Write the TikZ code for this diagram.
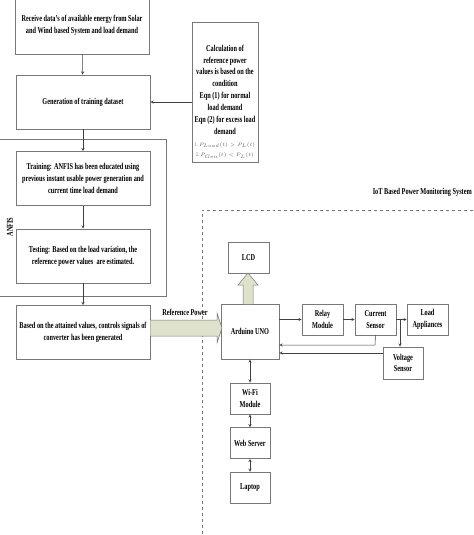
\documentclass[tikz,border=0pt]{standalone}
\usepackage{amsmath}
\usepackage{fontspec}
\setmainfont{Liberation Serif}[FakeStretch=0.7]
\usepackage{tikz}
\usetikzlibrary{arrows, positioning}

\definecolor{boxline}{RGB}{120,120,120}
\definecolor{fatfill}{RGB}{222,226,204}

\newcommand{\eqnote}[1]{\fontsize{5.5}{7}\selectfont\mdseries\color{black!65}#1}

\tikzset{
  box/.style={draw=boxline, fill=white, align=center, inner sep=0pt, line width=0.6pt,
    font=\fontsize{9}{11.9}\selectfont\bfseries},
  flowbox/.style={box, minimum width=134bp, minimum height=54bp},
  smallbox/.style={box, minimum width=41bp, minimum height=31bp},
  link/.style={->, >=stealth, draw=black!75, line width=0.5pt},
  twoway/.style={<->, >=stealth, draw=black!75, line width=0.5pt},
  fatarrow/.style={fill=fatfill, draw=black!55, line width=0.5pt},
  lbl/.style={font=\fontsize{9}{11.9}\selectfont\bfseries, inner sep=0pt}
}

\begin{document}
\begin{tikzpicture}[x=1bp, y=-1bp]
    \useasboundingbox (0,0) rectangle (474,535);

    % ANFIS frame and IoT area
    \draw[boxline, line width=0.5pt] (-3,139) rectangle (166,296);
    \node[lbl, rotate=90] (anfis) at (10,227) {ANFIS};
    \draw[boxline, dashed, line width=0.6pt] (202,540) -- (202,210) -- (480,210);
    \node[lbl, anchor=east] (iot) at (472,192) {IoT Based Power Monitoring System};

    % ANFIS flow
    \node[flowbox, minimum height=57bp] (rcv) at (82,25.5) {Receive data's of available energy from Solar\\and Wind based System and load demand};
    \node[flowbox] (gen) at (83,102) {Generation of training dataset};
    \node[box, minimum width=66bp, minimum height=140bp] (calc) at (225,92)
      {\rule{0pt}{26pt}Calculation of\\reference power\\values is based on the\\condition\\Eqn (1) for normal\\load demand\\Eqn (2) for excess load\\demand\\
       \eqnote{1. $P_{Load}(t) > P_L(t)$}\\[-1pt]\eqnote{2. $P_{Gen}(t) < P_L(t)$}};
    \node[flowbox] (train) at (83,178.5) {Training: ANFIS has been educated using\\previous instant usable power generation and\\current time load demand};
    \node[flowbox] (test) at (83,256) {Testing: Based on the load variation, the\\reference power values\ \ are estimated.};
    \node[flowbox] (ctrl) at (83,332.5) {Based on the attained values, controls signals of\\converter has been generated};

    \draw[link] (rcv) -- (gen);
    \draw[link] (calc.west |- gen.east) -- (gen.east);
    \draw[link] (gen) -- (train);
    \draw[link] (train) -- (test);
    \draw[link] (test) -- (ctrl);

    % IoT blocks
    \node[box, minimum width=58bp, minimum height=55bp] (uno) at (250,331.5) {Arduino UNO};
    \node[smallbox] (lcd) at (248.5,257.5) {LCD};
    \node[smallbox] (relay) at (322.5,319.5) {Relay\\Module};
    \node[smallbox] (cur) at (375.5,319.5) {Current\\Sensor};
    \node[smallbox] (load) at (427.5,319.5) {Load\\Appliances};
    \node[smallbox, minimum width=40bp, minimum height=32bp] (volt) at (403,363) {Voltage\\Sensor};
    \node[smallbox, minimum width=40bp] (wifi) at (250,398.5) {Wi-Fi\\Module};
    \node[smallbox, minimum width=40bp, below=13bp of wifi] (web) {Web Server};
    \node[smallbox, minimum width=40bp, below=13bp of web] (laptop) {Laptop};

    % reference power and LCD arrows
    \draw[fatarrow] (ctrl.east |- 0,320) -- (217,320) -- (217,313) -- (222,328)
      -- (217,343) -- (217,336) -- (ctrl.east |- 0,336);
    \node[lbl] (refp) at (185,312) {Reference Power};
    \draw[fatarrow] (243,304) -- (243,285) -- (238,285) -- (248,273) -- (258,285)
      -- (253,285) -- (253,304);

    \draw[link] (uno.east |- relay.west) -- (relay.west);
    \draw[link] (relay) -- (cur);
    \draw[link] (cur) -- (load);
    \coordinate (br) at (400,320);
    \draw[link] (br) -- (br |- volt.north);
    \coordinate (fb) at (375,345);
    \draw[link] (cur.south) -- (fb) -- (fb -| uno.east);
    \draw[link] ([yshift=10bp]volt.west) -- ([yshift=10bp]volt.west -| uno.east);

    \draw[twoway] (uno) -- (wifi);
    \draw[twoway] (wifi) -- (web);
    \draw[twoway] (web) -- (laptop);
\end{tikzpicture}
\end{document}
